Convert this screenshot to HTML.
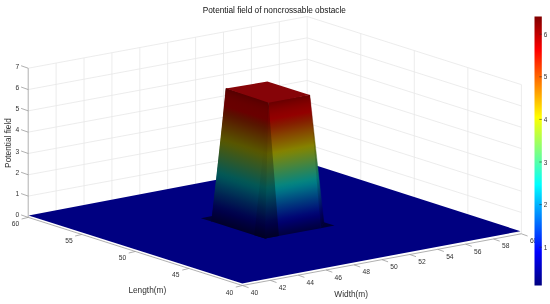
<!DOCTYPE html><html><head><meta charset="utf-8"><title>Potential field of noncrossable obstacle</title><style>html,body{margin:0;padding:0;background:#fff}svg{display:block}</style></head><body><svg width="550" height="304" viewBox="0 0 550 304">
<defs><linearGradient id="gL" gradientUnits="userSpaceOnUse" x1="254.31" y1="235.20" x2="293.91" y2="110.75"><stop offset="0.0000" stop-color="#000029"/><stop offset="0.0312" stop-color="#000033"/><stop offset="0.0625" stop-color="#00003d"/><stop offset="0.0938" stop-color="#000048"/><stop offset="0.1250" stop-color="#00054e"/><stop offset="0.1562" stop-color="#000f50"/><stop offset="0.1875" stop-color="#001a51"/><stop offset="0.2188" stop-color="#002453"/><stop offset="0.2500" stop-color="#003055"/><stop offset="0.2812" stop-color="#003b57"/><stop offset="0.3125" stop-color="#004758"/><stop offset="0.3438" stop-color="#005258"/><stop offset="0.3750" stop-color="#045854"/><stop offset="0.4062" stop-color="#0f5849"/><stop offset="0.4375" stop-color="#1a583e"/><stop offset="0.4688" stop-color="#255833"/><stop offset="0.5000" stop-color="#305828"/><stop offset="0.5312" stop-color="#3a581e"/><stop offset="0.5625" stop-color="#455813"/><stop offset="0.5938" stop-color="#505808"/><stop offset="0.6250" stop-color="#585500"/><stop offset="0.6562" stop-color="#584b00"/><stop offset="0.6875" stop-color="#584000"/><stop offset="0.7188" stop-color="#583500"/><stop offset="0.7500" stop-color="#582a00"/><stop offset="0.7812" stop-color="#581f00"/><stop offset="0.8125" stop-color="#581500"/><stop offset="0.8438" stop-color="#5e0b00"/><stop offset="0.8750" stop-color="#690000"/><stop offset="0.9062" stop-color="#680000"/><stop offset="0.9375" stop-color="#660000"/><stop offset="0.9688" stop-color="#600000"/><stop offset="1.0000" stop-color="#560000"/></linearGradient><linearGradient id="gSL" gradientUnits="userSpaceOnUse" x1="254.31" y1="235.20" x2="293.91" y2="110.75"><stop offset="0.0000" stop-color="#000022"/><stop offset="0.0312" stop-color="#00002b"/><stop offset="0.0625" stop-color="#000034"/><stop offset="0.0938" stop-color="#00003e"/><stop offset="0.1250" stop-color="#000544"/><stop offset="0.1562" stop-color="#000d46"/><stop offset="0.1875" stop-color="#001748"/><stop offset="0.2188" stop-color="#00204a"/><stop offset="0.2500" stop-color="#002b4c"/><stop offset="0.2812" stop-color="#00364f"/><stop offset="0.3125" stop-color="#004150"/><stop offset="0.3438" stop-color="#004b51"/><stop offset="0.3750" stop-color="#04524e"/><stop offset="0.4062" stop-color="#0e5244"/><stop offset="0.4375" stop-color="#18533a"/><stop offset="0.4688" stop-color="#235431"/><stop offset="0.5000" stop-color="#2d5427"/><stop offset="0.5312" stop-color="#38551d"/><stop offset="0.5625" stop-color="#435512"/><stop offset="0.5938" stop-color="#4e5608"/><stop offset="0.6250" stop-color="#575400"/><stop offset="0.6562" stop-color="#574a00"/><stop offset="0.6875" stop-color="#584000"/><stop offset="0.7188" stop-color="#593500"/><stop offset="0.7500" stop-color="#592b00"/><stop offset="0.7812" stop-color="#5a2000"/><stop offset="0.8125" stop-color="#5b1500"/><stop offset="0.8438" stop-color="#600b00"/><stop offset="0.8750" stop-color="#680000"/><stop offset="0.9062" stop-color="#650000"/><stop offset="0.9375" stop-color="#610000"/><stop offset="0.9688" stop-color="#590000"/><stop offset="1.0000" stop-color="#4f0000"/></linearGradient><linearGradient id="gR" gradientUnits="userSpaceOnUse" x1="265.00" y1="238.60" x2="240.49" y2="107.97"><stop offset="0.0000" stop-color="#00003e"/><stop offset="0.0312" stop-color="#00004c"/><stop offset="0.0625" stop-color="#00005c"/><stop offset="0.0938" stop-color="#00006c"/><stop offset="0.1250" stop-color="#000875"/><stop offset="0.1562" stop-color="#001778"/><stop offset="0.1875" stop-color="#00277b"/><stop offset="0.2188" stop-color="#00377d"/><stop offset="0.2500" stop-color="#004880"/><stop offset="0.2812" stop-color="#005983"/><stop offset="0.3125" stop-color="#006b85"/><stop offset="0.3438" stop-color="#007b85"/><stop offset="0.3750" stop-color="#07857e"/><stop offset="0.4062" stop-color="#17856e"/><stop offset="0.4375" stop-color="#27855d"/><stop offset="0.4688" stop-color="#37854d"/><stop offset="0.5000" stop-color="#48853d"/><stop offset="0.5312" stop-color="#58852d"/><stop offset="0.5625" stop-color="#68851d"/><stop offset="0.5938" stop-color="#78850c"/><stop offset="0.6250" stop-color="#858100"/><stop offset="0.6562" stop-color="#857000"/><stop offset="0.6875" stop-color="#856000"/><stop offset="0.7188" stop-color="#855000"/><stop offset="0.7500" stop-color="#854000"/><stop offset="0.7812" stop-color="#852f00"/><stop offset="0.8125" stop-color="#851f00"/><stop offset="0.8438" stop-color="#8a1000"/><stop offset="0.8750" stop-color="#930000"/><stop offset="0.9062" stop-color="#8d0000"/><stop offset="0.9375" stop-color="#840000"/><stop offset="0.9688" stop-color="#780000"/><stop offset="1.0000" stop-color="#690000"/></linearGradient><linearGradient id="gSR" gradientUnits="userSpaceOnUse" x1="265.00" y1="238.60" x2="240.49" y2="107.97"><stop offset="0.0000" stop-color="#000026"/><stop offset="0.0312" stop-color="#00002f"/><stop offset="0.0625" stop-color="#00003a"/><stop offset="0.0938" stop-color="#000044"/><stop offset="0.1250" stop-color="#00054a"/><stop offset="0.1562" stop-color="#000f4d"/><stop offset="0.1875" stop-color="#00194f"/><stop offset="0.2188" stop-color="#002451"/><stop offset="0.2500" stop-color="#002f54"/><stop offset="0.2812" stop-color="#003b56"/><stop offset="0.3125" stop-color="#004758"/><stop offset="0.3438" stop-color="#005259"/><stop offset="0.3750" stop-color="#045955"/><stop offset="0.4062" stop-color="#105a4a"/><stop offset="0.4375" stop-color="#1b5b40"/><stop offset="0.4688" stop-color="#265b35"/><stop offset="0.5000" stop-color="#325c2a"/><stop offset="0.5312" stop-color="#3d5c1f"/><stop offset="0.5625" stop-color="#495d14"/><stop offset="0.5938" stop-color="#555e09"/><stop offset="0.6250" stop-color="#5e5c00"/><stop offset="0.6562" stop-color="#5f5100"/><stop offset="0.6875" stop-color="#604500"/><stop offset="0.7188" stop-color="#603a00"/><stop offset="0.7500" stop-color="#612f00"/><stop offset="0.7812" stop-color="#622300"/><stop offset="0.8125" stop-color="#621700"/><stop offset="0.8438" stop-color="#670c00"/><stop offset="0.8750" stop-color="#700000"/><stop offset="0.9062" stop-color="#6c0000"/><stop offset="0.9375" stop-color="#660000"/><stop offset="0.9688" stop-color="#5e0000"/><stop offset="1.0000" stop-color="#530000"/></linearGradient><linearGradient id="gsl" gradientUnits="userSpaceOnUse" x1="211.57" y1="221.60" x2="167.24" y2="197.81"><stop offset="0.0000" stop-color="#000026"/><stop offset="0.0312" stop-color="#00002f"/><stop offset="0.0625" stop-color="#000039"/><stop offset="0.0938" stop-color="#000043"/><stop offset="0.1250" stop-color="#000548"/><stop offset="0.1562" stop-color="#000e4a"/><stop offset="0.1875" stop-color="#00184b"/><stop offset="0.2188" stop-color="#00224d"/><stop offset="0.2500" stop-color="#002c4f"/><stop offset="0.2812" stop-color="#003751"/><stop offset="0.3125" stop-color="#004252"/><stop offset="0.3438" stop-color="#004c52"/><stop offset="0.3750" stop-color="#04524e"/><stop offset="0.4062" stop-color="#0e5244"/><stop offset="0.4375" stop-color="#18523a"/><stop offset="0.4688" stop-color="#225230"/><stop offset="0.5000" stop-color="#2c5226"/><stop offset="0.5312" stop-color="#36521c"/><stop offset="0.5625" stop-color="#405212"/><stop offset="0.5938" stop-color="#4a5208"/><stop offset="0.6250" stop-color="#524f00"/><stop offset="0.6562" stop-color="#524500"/><stop offset="0.6875" stop-color="#523b00"/><stop offset="0.7188" stop-color="#523100"/><stop offset="0.7500" stop-color="#522700"/><stop offset="0.7812" stop-color="#521d00"/><stop offset="0.8125" stop-color="#521300"/><stop offset="0.8438" stop-color="#560a00"/><stop offset="0.8750" stop-color="#5e0000"/><stop offset="0.9062" stop-color="#5c0000"/><stop offset="0.9375" stop-color="#580000"/><stop offset="0.9688" stop-color="#520000"/><stop offset="1.0000" stop-color="#490000"/></linearGradient><linearGradient id="gsr" gradientUnits="userSpaceOnUse" x1="320.64" y1="228.16" x2="256.79" y2="193.90"><stop offset="0.0000" stop-color="#000035"/><stop offset="0.0312" stop-color="#000042"/><stop offset="0.0625" stop-color="#000050"/><stop offset="0.0938" stop-color="#00005e"/><stop offset="0.1250" stop-color="#000765"/><stop offset="0.1562" stop-color="#001468"/><stop offset="0.1875" stop-color="#00216a"/><stop offset="0.2188" stop-color="#002f6d"/><stop offset="0.2500" stop-color="#003e6f"/><stop offset="0.2812" stop-color="#004d71"/><stop offset="0.3125" stop-color="#005c73"/><stop offset="0.3438" stop-color="#006a73"/><stop offset="0.3750" stop-color="#06736d"/><stop offset="0.4062" stop-color="#14735f"/><stop offset="0.4375" stop-color="#227351"/><stop offset="0.4688" stop-color="#307343"/><stop offset="0.5000" stop-color="#3e7335"/><stop offset="0.5312" stop-color="#4c7327"/><stop offset="0.5625" stop-color="#5a7319"/><stop offset="0.5938" stop-color="#68730b"/><stop offset="0.6250" stop-color="#736f00"/><stop offset="0.6562" stop-color="#736100"/><stop offset="0.6875" stop-color="#735300"/><stop offset="0.7188" stop-color="#734500"/><stop offset="0.7500" stop-color="#733700"/><stop offset="0.7812" stop-color="#732900"/><stop offset="0.8125" stop-color="#731b00"/><stop offset="0.8438" stop-color="#780e00"/><stop offset="0.8750" stop-color="#820000"/><stop offset="0.9062" stop-color="#7d0000"/><stop offset="0.9375" stop-color="#760000"/><stop offset="0.9688" stop-color="#6d0000"/><stop offset="1.0000" stop-color="#600000"/></linearGradient><linearGradient id="cb" x1="0" y1="1" x2="0" y2="0"><stop offset="0.0000" stop-color="#000080"/><stop offset="0.0312" stop-color="#00009f"/><stop offset="0.0625" stop-color="#0000bf"/><stop offset="0.0938" stop-color="#0000df"/><stop offset="0.1250" stop-color="#0000ff"/><stop offset="0.1562" stop-color="#0020ff"/><stop offset="0.1875" stop-color="#0040ff"/><stop offset="0.2188" stop-color="#0060ff"/><stop offset="0.2500" stop-color="#0080ff"/><stop offset="0.2812" stop-color="#009fff"/><stop offset="0.3125" stop-color="#00bfff"/><stop offset="0.3438" stop-color="#00dfff"/><stop offset="0.3750" stop-color="#00ffff"/><stop offset="0.4062" stop-color="#20ffdf"/><stop offset="0.4375" stop-color="#40ffbf"/><stop offset="0.4688" stop-color="#60ff9f"/><stop offset="0.5000" stop-color="#80ff80"/><stop offset="0.5312" stop-color="#9fff60"/><stop offset="0.5625" stop-color="#bfff40"/><stop offset="0.5938" stop-color="#dfff20"/><stop offset="0.6250" stop-color="#ffff00"/><stop offset="0.6562" stop-color="#ffdf00"/><stop offset="0.6875" stop-color="#ffbf00"/><stop offset="0.7188" stop-color="#ff9f00"/><stop offset="0.7500" stop-color="#ff8000"/><stop offset="0.7812" stop-color="#ff6000"/><stop offset="0.8125" stop-color="#ff4000"/><stop offset="0.8438" stop-color="#ff2000"/><stop offset="0.8750" stop-color="#ff0000"/><stop offset="0.9062" stop-color="#df0000"/><stop offset="0.9375" stop-color="#bf0000"/><stop offset="0.9688" stop-color="#9f0000"/><stop offset="1.0000" stop-color="#800000"/></linearGradient></defs>
<rect width="550" height="304" fill="#fff"/>
<path d="M56.10 212.23V63.06M84.00 207.06V57.89M111.90 201.89V52.72M139.80 196.72V47.55M167.70 191.55V42.38M195.60 186.38V37.21M223.50 181.21V32.04M251.40 176.04V26.87M279.30 170.87V21.70M307.20 165.70V16.53M360.75 182.73V33.56M414.30 199.75V50.58M467.85 216.78V67.61M521.40 233.80V84.63M28.20 217.40L307.20 165.70L521.40 233.80M28.20 196.09L307.20 144.39L521.40 212.49M28.20 174.78L307.20 123.08L521.40 191.18M28.20 153.47L307.20 101.77L521.40 169.87M28.20 132.16L307.20 80.46L521.40 148.56M28.20 110.85L307.20 59.15L521.40 127.25M28.20 89.54L307.20 37.84L521.40 105.94M28.20 68.23L307.20 16.53L521.40 84.63" fill="none" stroke="#e7e7e7" stroke-width="0.8"/>
<polygon points="28.60,215.40 242.30,283.40 520.50,231.20 306.80,162.60" fill="#000081"/>
<path d="M28.20 68.23L28.20 217.40L242.40 285.50L521.40 233.80M28.20 217.40l-7.1 -2.5M28.20 196.09l-7.1 -2.5M28.20 174.78l-7.1 -2.5M28.20 153.47l-7.1 -2.5M28.20 132.16l-7.1 -2.5M28.20 110.85l-7.1 -2.5M28.20 89.54l-7.1 -2.5M28.20 68.23l-7.1 -2.5M28.20 217.40l-6.6 1.6M81.75 234.43l-6.6 1.6M135.30 251.45l-6.6 1.6M188.85 268.48l-6.6 1.6M242.40 285.50l-6.6 1.6M242.40 285.50l6.2 2.2M270.30 280.33l6.2 2.2M298.20 275.16l6.2 2.2M326.10 269.99l6.2 2.2M354.00 264.82l6.2 2.2M381.90 259.65l6.2 2.2M409.80 254.48l6.2 2.2M437.70 249.31l6.2 2.2M465.60 244.14l6.2 2.2M493.50 238.97l6.2 2.2M521.40 233.80l6.2 2.2" fill="none" stroke="#959595" stroke-width="0.75"/>
<polygon points="214.80,215.59 200.89,218.20 211.57,221.60" fill="#000036"/>
<polygon points="323.87,222.15 334.55,225.55 320.64,228.16" fill="#000036"/>
<polygon points="225.90,88.50 227.20,88.60 211.57,221.60 214.80,215.59" fill="url(#gsl)" stroke="url(#gsl)" stroke-width="0.4"/>
<polygon points="309.80,95.10 308.50,95.00 320.64,228.16 323.87,222.15" fill="url(#gsr)" stroke="url(#gsr)" stroke-width="0.4"/>
<polygon points="225.90,88.50 227.20,88.60 268.51,101.40 268.60,102.70 265.00,238.60 211.57,221.60" fill="url(#gL)"/>
<polygon points="268.60,102.70 268.51,101.40 308.50,95.00 309.80,95.10 320.64,228.16 265.00,238.60" fill="url(#gR)"/>
<polygon points="268.51,101.40 254.31,235.20 265.00,238.60 266.50,238.60 269.01,101.40" fill="url(#gSL)"/>
<polygon points="268.51,101.40 265.00,238.60 278.91,235.99" fill="url(#gSR)"/>
<polygon points="225.90,88.50 267.40,81.50 309.80,95.10 268.60,102.70" fill="#860408"/>
<text x="529.9" y="242.9" font-size="6.7" font-family="Liberation Sans, Arial, sans-serif" fill="#303030">60</text>
<rect x="534.50" y="16.50" width="7.30" height="269.00" fill="url(#cb)"/>
<path d="M539.3 34.20h2.5M539.3 76.80h2.5M539.3 119.40h2.5M539.3 162.00h2.5M539.3 204.60h2.5M539.3 247.20h2.5" stroke="#333" stroke-width="0.6" fill="none"/>
<g font-family="Liberation Sans, Arial, sans-serif" fill="#303030">
<text x="274.3" y="13.4" font-size="8.25" text-anchor="middle" fill="#111">Potential field of noncrossable obstacle</text>
<text x="543.8" y="36.80" font-size="6.4">6</text>
<text x="543.8" y="79.40" font-size="6.4">5</text>
<text x="543.8" y="122.00" font-size="6.4">4</text>
<text x="543.8" y="164.60" font-size="6.4">3</text>
<text x="543.8" y="207.20" font-size="6.4">2</text>
<text x="543.8" y="249.80" font-size="6.4">1</text>
<text x="19.2" y="217.40" font-size="6.7" text-anchor="end">0</text>
<text x="19.2" y="196.16" font-size="6.7" text-anchor="end">1</text>
<text x="19.2" y="174.92" font-size="6.7" text-anchor="end">2</text>
<text x="19.2" y="153.68" font-size="6.7" text-anchor="end">3</text>
<text x="19.2" y="132.44" font-size="6.7" text-anchor="end">4</text>
<text x="19.2" y="111.20" font-size="6.7" text-anchor="end">5</text>
<text x="19.2" y="89.96" font-size="6.7" text-anchor="end">6</text>
<text x="19.2" y="68.72" font-size="6.7" text-anchor="end">7</text>
<text x="15.50" y="226.00" font-size="6.7" text-anchor="middle">60</text>
<text x="68.90" y="243.20" font-size="6.7" text-anchor="middle">55</text>
<text x="122.50" y="260.40" font-size="6.7" text-anchor="middle">50</text>
<text x="175.80" y="277.20" font-size="6.7" text-anchor="middle">45</text>
<text x="229.50" y="294.50" font-size="6.7" text-anchor="middle">40</text>
<text x="254.50" y="295.10" font-size="6.7" text-anchor="middle">40</text>
<text x="282.41" y="289.90" font-size="6.7" text-anchor="middle">42</text>
<text x="310.32" y="284.70" font-size="6.7" text-anchor="middle">44</text>
<text x="338.23" y="279.50" font-size="6.7" text-anchor="middle">46</text>
<text x="366.14" y="274.30" font-size="6.7" text-anchor="middle">48</text>
<text x="394.05" y="269.10" font-size="6.7" text-anchor="middle">50</text>
<text x="421.96" y="263.90" font-size="6.7" text-anchor="middle">52</text>
<text x="449.87" y="258.70" font-size="6.7" text-anchor="middle">54</text>
<text x="477.78" y="253.50" font-size="6.7" text-anchor="middle">56</text>
<text x="505.69" y="248.30" font-size="6.7" text-anchor="middle">58</text>
<text x="147.3" y="293.2" font-size="8.3" text-anchor="middle">Length(m)</text>
<text x="351.2" y="297.2" font-size="8.3" text-anchor="middle">Width(m)</text>
<text transform="translate(10.8,143) rotate(-90)" font-size="8.3" text-anchor="middle">Potential field</text>
</g>
</svg></body></html>
